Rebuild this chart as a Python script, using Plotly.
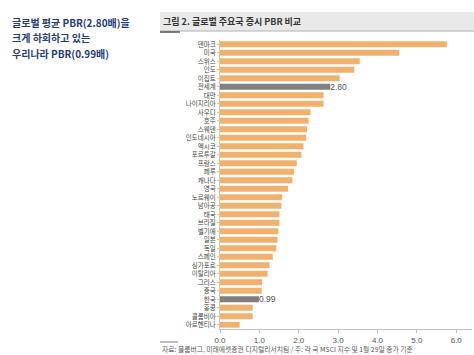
import plotly.graph_objects as go

countries = ["덴마크", "미국", "스위스", "인도", "이집트", "전세계", "대만", "나이지리아", "사우디", "호주",
             "스웨덴", "인도네시아", "멕시코", "포르투갈", "프랑스", "페루", "캐나다", "영국", "노르웨이", "남아공",
             "태국", "브라질", "벨기에", "일본", "독일", "스페인", "싱가포르", "이탈리아", "그리스", "중국",
             "한국", "홍콩", "콜롬비아", "아르헨티나"]
pbr = [5.76, 4.55, 3.55, 3.41, 3.04, 2.80, 2.63, 2.63, 2.30, 2.25,
       2.21, 2.19, 2.12, 2.07, 1.95, 1.88, 1.84, 1.73, 1.58, 1.56,
       1.51, 1.51, 1.48, 1.46, 1.43, 1.34, 1.26, 1.21, 1.07, 1.06,
       0.99, 0.83, 0.83, 0.50]
highlight = ["전세계", "한국"]
x_ticks = [0, 1, 2, 3, 4, 5, 6]
x_ticklabels = ["0.0", "1.0", "2.0", "3.0", "4.0", "5.0", "6.0"]

ORANGE = "#F0B06E"
GRAY = "#7F7F7F"
colors = [GRAY if c in highlight else ORANGE for c in countries]
labels = [f"{v:.2f}" if c in highlight else "" for c, v in zip(countries, pbr)]

W, H = 474, 355
L, R, T, B = 220, 2, 40, 26
PW, PH = W - L - R, H - T - B

def xp(px):
    return (px - L) / PW

def yp(py):
    return (H - B - py) / PH

KFONT = "Noto Sans CJK KR"

fig = go.Figure(go.Bar(
    x=pbr, y=countries, orientation="h",
    marker=dict(color=colors, line=dict(width=0)),
    text=labels, textposition="outside", cliponaxis=False, constraintext="none",
    textfont=dict(family="Liberation Sans", size=8.5, color="#555555"),
    width=0.68, hoverinfo="skip",
))

fig.update_layout(
    width=W, height=H,
    margin=dict(l=L, r=R, t=T, b=B),
    paper_bgcolor="white", plot_bgcolor="white",
    showlegend=False,
    xaxis=dict(range=[0, 6.4], tickvals=x_ticks, ticktext=x_ticklabels,
               showgrid=False, zeroline=False, showline=True, linecolor="#BFBFBF", linewidth=1,
               ticks="outside", ticklen=3, tickcolor="#BFBFBF",
               tickfont=dict(family="Liberation Sans", size=8, color="#555555")),
    yaxis=dict(autorange="reversed", showgrid=False, zeroline=False,
               showline=True, linecolor="#E6C49A", linewidth=1,
               ticks="outside", ticklen=2, tickcolor="#E6C49A",
               tickfont=dict(family=KFONT, size=6.5, color="#444444")),
)

shapes = [
    dict(type="rect", xref="paper", yref="paper", x0=xp(160), x1=xp(474), y0=yp(31), y1=yp(12),
         fillcolor="#E9E9E9", line=dict(width=0), layer="below"),
    dict(type="line", xref="paper", yref="paper", x0=xp(160), x1=xp(474), y0=yp(31), y1=yp(31),
         line=dict(color="#B0B0B0", width=1)),
    dict(type="line", xref="paper", yref="paper", x0=xp(160), x1=xp(180), y0=yp(32), y1=yp(32),
         line=dict(color="#555555", width=1.5)),
    dict(type="line", xref="paper", yref="paper", x0=xp(160), x1=xp(178), y0=yp(342), y1=yp(342),
         line=dict(color="#555555", width=0.8)),
]

annotations = [
    dict(text="<b>그림 2. 글로벌 주요국 증시 PBR 비교</b>", xref="paper", yref="paper",
         x=xp(161), y=yp(21.5), xanchor="left", yanchor="middle", showarrow=False,
         font=dict(family=KFONT, size=9, color="#333333")),
    dict(text="자료: 블룸버그, 미래에셋증권 디지털리서치팀 / 주: 각 국 MSCI 지수 및 1월 29일 종가 기준",
         xref="paper", yref="paper", x=xp(160), y=yp(349), xanchor="left", yanchor="middle",
         showarrow=False, font=dict(family=KFONT, size=6.8, color="#555555")),
]
left_lines = ["글로벌 평균 PBR(2.80배)을", "크게 하회하고 있는", "우리나라 PBR(0.99배)"]
for i, line in enumerate(left_lines):
    annotations.append(dict(text=f"<b>{line}</b>", xref="paper", yref="paper",
                            x=xp(10), y=yp(23 + 15 * i), xanchor="left", yanchor="middle",
                            showarrow=False, font=dict(family=KFONT, size=10, color="#1F3C78")))

fig.update_layout(shapes=shapes, annotations=annotations)
fig.write_html("out.html", config={"displayModeBar": False},
               post_script="document.body.style.margin='0';document.body.style.padding='0';")
